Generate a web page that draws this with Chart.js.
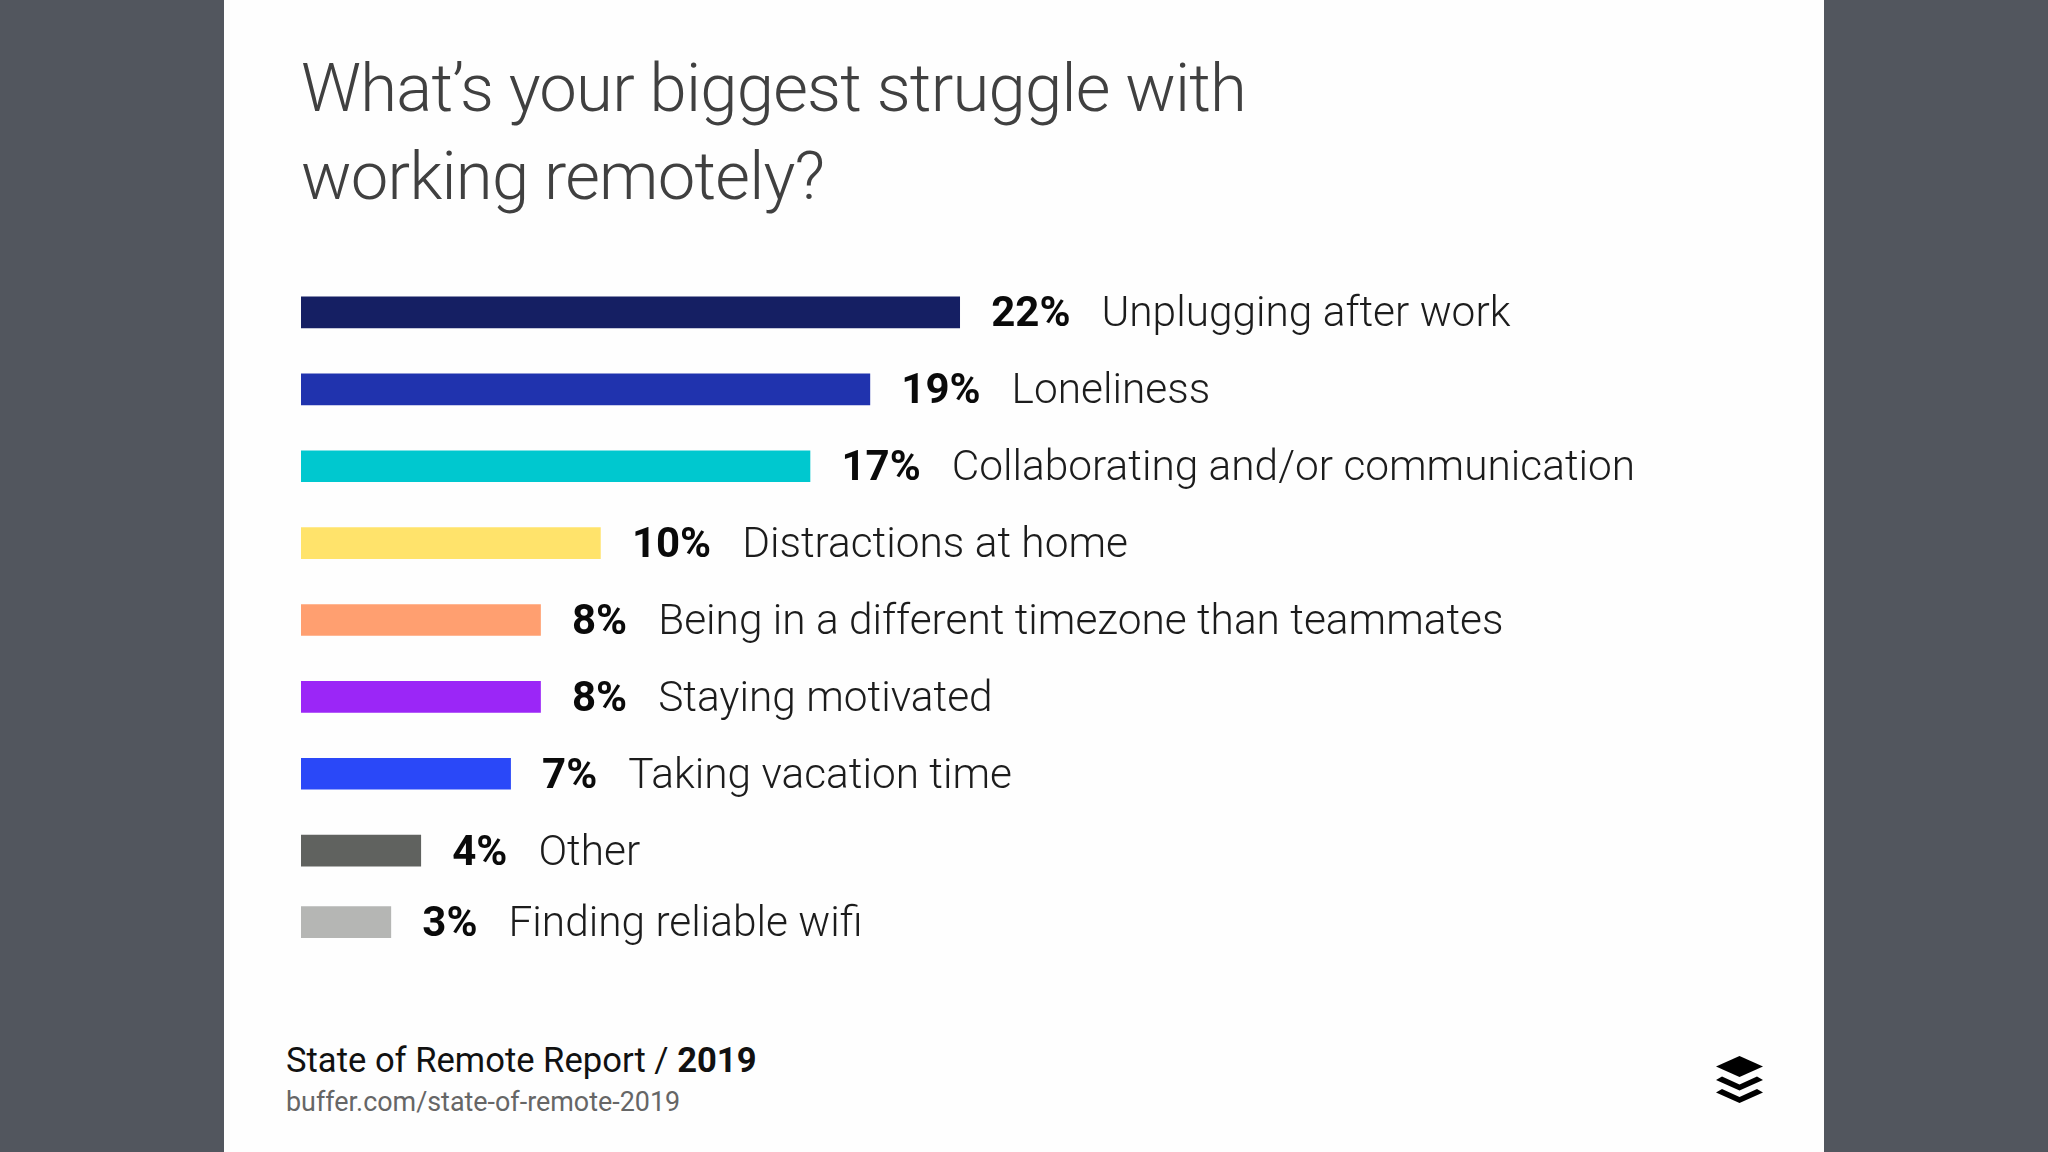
<!DOCTYPE html>
<html>
<head>
<meta charset="utf-8">
<title>What's your biggest struggle with working remotely?</title>
<script src="https://cdn.jsdelivr.net/npm/chart.js@4"></script>
<style>
    html, body { margin: 0; padding: 0; width: 2048px; height: 1152px; overflow: hidden; background: #52565e; }
    body { position: relative; font-family: Roboto, sans-serif; }
    #panel { position: absolute; left: 224px; top: 0; width: 1600px; height: 1152px; background: #fefefe; }
    #title { position: absolute; left: 301px; top: 44px; margin: 0; font-size: 67px; letter-spacing: -0.75px; line-height: 88px; font-weight: 300; color: #404040; }
    #chartWrap { position: absolute; left: 300.5px; top: 274px; width: 1500px; height: 692px; }
    #source { position: absolute; left: 286px; top: 1038px; font-size: 34.6px; line-height: 44px; color: #111; white-space: nowrap; }
    #source b { font-weight: 700; }
    #link { position: absolute; left: 286px; top: 1084px; font-size: 26.9px; line-height: 36px; color: #666; white-space: nowrap; }
    #logo { position: absolute; left: 1716px; top: 1056px; }
</style>
</head>
<body>
<div id="panel"></div>
<h1 id="title">What’s your biggest struggle with<br>working remotely?</h1>
<div id="chartWrap"><canvas id="struggleChart" width="1500" height="692"></canvas></div>
<div id="source">State of Remote Report / <b>2019</b></div>
<div id="link">buffer.com/state-of-remote-2019</div>
<svg id="logo" width="47" height="47" viewBox="0 0 47 47">
    <polygon points="23.5,0 47,10.5 23.5,21 0,10.5" fill="#000"/>
    <polygon points="6,20.5 23.5,28.5 41,20.5 47,24 23.5,34.5 0,24" fill="#000"/>
    <polygon points="6,33 23.5,41 41,33 47,36.5 23.5,47 0,36.5" fill="#000"/>
</svg>
<script>
const categories = [
    "Unplugging after work",
    "Loneliness",
    "Collaborating and/or communication",
    "Distractions at home",
    "Being in a different timezone than teammates",
    "Staying motivated",
    "Taking vacation time",
    "Other",
    "Finding reliable wifi"
];
const percents = [22, 19, 17, 10, 8, 8, 7, 4, 3];

const barColors = ["#151f63", "#2033ae", "#00c8cf", "#ffe36b", "#ff9f70", "#9b26f7", "#2a48f8", "#60625f", "#b5b6b4"];

(function () {
    const canvas = document.getElementById("struggleChart");

    // the last row sits closer to the one above it in the original
    const lastRowPull = 0.07;

    // draws "22%  Unplugging after work" to the right of each bar
    const barLabels = {
        id: "barLabels",
        afterDatasetsDraw(chart) {
            const ctx = chart.ctx;
            const bars = chart.getDatasetMeta(0).data;
            ctx.save();
            ctx.textBaseline = "alphabetic";
            ctx.textAlign = "left";
            bars.forEach((bar, i) => {
                const pct = percents[i] + "%";
                const x = bar.x + 31.5;
                const y = bar.y + 14;
                ctx.font = "700 42px Roboto";
                ctx.fillStyle = "#0a0a0a";
                ctx.fillText(pct, x, y);
                const w = ctx.measureText(pct).width;
                ctx.font = "300 42.4px Roboto";
                ctx.fillStyle = "#1c1c1c";
                ctx.fillText(categories[i], x + w + 31, y);
            });
            ctx.restore();
        }
    };

    new Chart(canvas, {
        type: "bar",
        data: {
            datasets: [{
                data: percents.map((p, i) => ({
                    x: p,
                    y: i === percents.length - 1 ? i - lastRowPull : i
                })),
                backgroundColor: barColors,
                borderWidth: 0,
                barThickness: 31
            }]
        },
        options: {
            indexAxis: "y",
            responsive: false,
            animation: false,
            devicePixelRatio: 1,
            layout: { padding: 0 },
            plugins: {
                legend: { display: false },
                tooltip: { enabled: false }
            },
            scales: {
                x: { type: "linear", display: false, min: 0, max: 50.1 },
                // offset has to go, bar charts turn it on for the index axis
                y: { type: "linear", display: false, offset: false, reverse: true, min: -0.5, max: 8.5 }
            }
        },
        plugins: [barLabels]
    });
})();
</script>
</body>
</html>
